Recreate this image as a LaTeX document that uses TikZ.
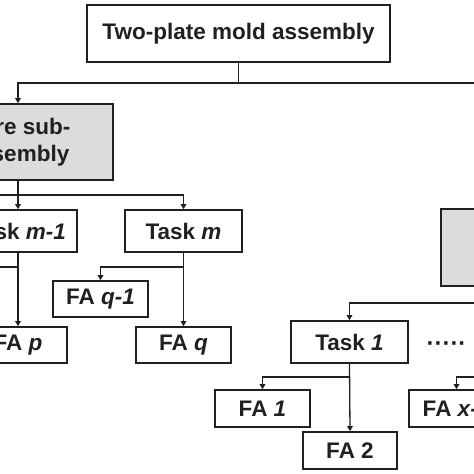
\documentclass[tikz,border=0pt]{standalone}
\usepackage{fontspec}
\setmainfont{Liberation Sans}
\usetikzlibrary{arrows.meta}
\definecolor{ink}{HTML}{202020}
\definecolor{boxgray}{HTML}{DCDCDC}
\tikzset{
  blk/.style={draw=ink, line width=1.6pt, inner sep=0pt, align=center,
    font=\fontsize{22.5}{27}\selectfont\bfseries, text=ink},
  graybox/.style={blk, fill=boxgray},
  conn/.style={draw=ink, line width=1.3pt},
  arr/.style={conn, -{Triangle[width=5.5pt,length=5pt]}},
}
\begin{document}
\begin{tikzpicture}[x=1pt,y=-1pt]
\useasboundingbox (0,0) rectangle (474,474);
\clip (0,0) rectangle (474,474);
% nodes
\node[blk, minimum width=303pt, minimum height=57pt] (top) at (238.5,33.5) {Two-plate mold assembly};
\node[graybox, minimum width=190pt, minimum height=76pt] (core) at (18,142) {Core sub-\\assembly};
\node[graybox, minimum width=190pt, minimum height=77pt] (rgray) at (536,247.5) {};
\node[blk, minimum width=118pt, minimum height=42pt] (tm1) at (18,231) {Task \textit{m-1}};
\node[blk, minimum width=117pt, minimum height=42pt] (tm) at (183.5,231) {Task \textit{m}};
\node[blk, minimum width=98pt, minimum height=36pt] (fap) at (18,345) {FA \textit{p}};
\node[blk, minimum width=95pt, minimum height=36pt] (faq1) at (100.5,299) {FA \textit{q-1}};
\node[blk, minimum width=95pt, minimum height=36pt] (faq) at (183.5,345) {FA \textit{q}};
\node[blk, minimum width=117pt, minimum height=42pt] (t1) at (349.5,342) {Task \textit{1}};
\node[blk, draw=none, inner sep=0pt, font=\fontsize{24}{27}\selectfont\bfseries] (dots) at (446.5,347) {·····};
\node[blk, minimum width=95pt, minimum height=37pt] (fa1) at (262.5,408.5) {FA \textit{1}};
\node[blk, minimum width=94pt, minimum height=37pt] (fa2) at (350,450.5) {FA 2};
\node[blk, minimum width=95pt, minimum height=37pt] (fax) at (456.5,408.5) {FA \textit{x-1}};
% off-canvas coordinates for cut-off branches
\coordinate (leftA) at (-60,195);
\coordinate (leftB) at (-60,267);
\coordinate (rightX) at (560,377);
% connectors
\draw[conn] (top.south) -- (238.5,83) coordinate (j1);
\draw[arr] (j1) -| (core.north);
\draw[arr] (j1) -| (rgray.north);
\draw[conn] (core.south) -- (18,195) coordinate (j2);
\draw[arr] (j2) -- (tm1.north);
\draw[arr] (j2) -| (tm.north);
\draw[conn] (j2) -- (leftA);
\draw[arr] (tm1.south) -- (fap.north);
\draw[conn] (18,267) -- (leftB);
\draw[arr] (tm.south) -- (faq.north);
\draw[arr] (183.5,267) -| (faq1.north);
\draw[conn] (rgray.south) -- (536,303) coordinate (j3);
\draw[arr] (j3) -| (t1.north);
\draw[arr] (t1.south) -- (fa2.north);
\draw[arr] (350,377) -| (fa1.north);
\draw[arr] (rightX) -| (fax.north);
\end{tikzpicture}
\end{document}
